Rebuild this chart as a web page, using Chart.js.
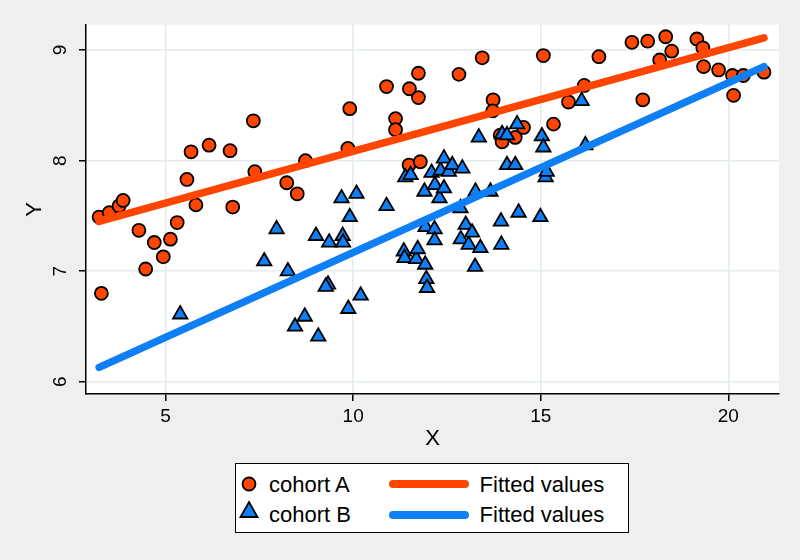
<!DOCTYPE html>
<html><head><meta charset="utf-8">
<script src="https://cdn.jsdelivr.net/npm/chart.js@4.4.1/dist/chart.umd.min.js"></script>
<style>
html,body{margin:0;padding:0;background:#efefef;}
#wrap{position:relative;width:800px;height:560px;overflow:hidden;}
#c{position:absolute;left:0;top:0;}
#legend{position:absolute;left:235px;top:463px;width:392px;height:68px;background:#fff;border:1px solid #000;}
.t{position:absolute;font-family:"Liberation Sans",Arial,sans-serif;font-size:22px;line-height:26px;height:26px;white-space:nowrap;color:#000;}
.ln{position:absolute;height:8px;border-radius:4px;width:80px;}
.mk{position:absolute;}
</style></head>
<body>
<div id="wrap">
<canvas id="c" width="800" height="560"></canvas>
<div id="legend">
  <svg class="mk" style="left:3px;top:10px" width="20" height="20"><circle cx="10" cy="10" r="6.5" fill="#ff4500" stroke="#000" stroke-width="1.8"/></svg>
  <span class="t" id="lgA" style="left:33px;top:7.6px"></span>
  <div class="ln" id="lnA" style="left:153px;top:16.3px"></div>
  <span class="t" id="lgFA" style="left:243.6px;top:7.6px"></span>
  <svg class="mk" style="left:2px;top:36px" width="22" height="20"><polygon points="11,2 19.5,17 2.5,17" fill="#0f7ff5" stroke="#000" stroke-width="1.8" stroke-linejoin="miter"/></svg>
  <span class="t" id="lgB" style="left:33px;top:38.3px"></span>
  <div class="ln" id="lnB" style="left:153px;top:47px"></div>
  <span class="t" id="lgFB" style="left:243.6px;top:38.3px"></span>
</div>
</div>
<script>
// ---- data ----
const cohortAX = [3.23,3.29,3.50,3.76,3.87,4.29,4.47,4.70,4.94,5.13,
  5.31,5.57,5.68,5.81,6.16,6.72,6.79,7.34,7.38,8.23,
  8.51,8.73,9.86,9.91,10.89,11.13,11.13,11.50,11.74,11.74,
  11.49,11.79,12.82,13.44,13.73,13.72,13.92,13.97,14.32,14.54,
  15.07,15.34,15.74,16.16,16.55,17.43,17.72,17.85,18.17,18.33,
  18.49,19.16,19.32,19.34,19.74,20.11,20.14,20.40,20.95];
const cohortAY = [7.49,6.80,7.53,7.59,7.64,7.37,7.02,7.26,7.13,7.29,
  7.44,7.83,8.08,7.60,8.14,8.09,7.58,8.36,7.90,7.80,
  7.70,8.00,8.11,8.47,8.67,8.38,8.28,8.65,8.79,8.57,
  7.96,7.99,8.78,8.93,8.55,8.45,8.23,8.17,8.21,8.30,
  8.95,8.33,8.53,8.68,8.94,9.07,8.55,9.08,8.91,9.12,
  8.99,9.10,9.02,8.85,8.82,8.77,8.59,8.77,8.80];
const cohortBX = [5.39,7.63,7.96,8.26,8.45,8.71,9.01,9.07,9.33,9.27,
  9.36,9.69,9.72,9.73,9.87,9.91,10.09,10.20,10.89,11.35,
  11.37,11.39,11.53,11.68,11.72,11.90,11.92,11.93,11.95,11.97,
  12.09,12.17,12.17,12.18,12.30,12.33,12.42,12.42,12.55,12.64,
  12.86,12.87,12.91,13.00,13.08,13.17,13.25,13.26,13.35,13.39,
  13.66,13.94,13.95,13.97,14.10,14.10,14.32,14.37,14.41,14.99,
  15.03,15.07,15.13,15.16,16.09,16.19];
const cohortBY = [6.61,7.09,7.38,7.00,6.50,6.59,7.32,6.41,6.88,6.86,
  7.26,7.66,7.32,7.26,6.66,7.49,7.70,6.78,7.59,7.18,
  7.12,7.85,7.87,7.11,7.20,7.72,7.06,7.40,6.93,6.85,
  7.89,7.38,7.28,7.78,7.66,7.91,8.02,7.75,7.90,7.96,
  7.57,7.29,7.93,7.42,7.24,7.35,7.04,7.72,8.21,7.21,
  7.72,7.45,7.24,8.24,8.23,7.96,7.96,8.33,7.53,7.49,
  8.22,8.12,7.85,7.90,8.54,8.14];
const fitX = [3.23, 20.95];
const fitAY = [7.45, 9.11];
const fitBY = [6.13, 8.85];
const xTicks = [5, 10, 15, 20];
const yTicks = [6, 7, 8, 9];
const seriesNames = ['cohort A', 'Fitted values', 'cohort B', 'Fitted values'];
const xTitle = 'X';
const yTitle = 'Y';

// ---- style ----
const RED = '#ff4500';
const BLUE = '#0f7ff5';
const GRID = '#e4ebee';
const FONT = '"Liberation Sans", Arial, sans-serif';

document.getElementById('lgA').textContent = seriesNames[0];
document.getElementById('lgFA').textContent = seriesNames[1];
document.getElementById('lgB').textContent = seriesNames[2];
document.getElementById('lgFB').textContent = seriesNames[3];
document.getElementById('lnA').style.background = RED;
document.getElementById('lnB').style.background = BLUE;

function pts(xs, ys) { return xs.map((x, i) => ({x: x, y: ys[i]})); }

const bgPlugin = {
  id: 'plotbg',
  beforeDraw(chart) {
    const {ctx, chartArea: a} = chart;
    ctx.save();
    ctx.fillStyle = '#ffffff';
    ctx.fillRect(a.left, a.top, a.right - a.left, a.bottom - a.top);
    ctx.restore();
  }
};

new Chart(document.getElementById('c'), {
  type: 'scatter',
  data: {
    datasets: [
      {label: seriesNames[0], data: pts(cohortAX, cohortAY), pointStyle: 'circle',
       pointRadius: 6.5, pointHoverRadius: 6.5, backgroundColor: RED, borderColor: '#000',
       borderWidth: 1.8, order: 3},
      {label: seriesNames[1], data: pts(fitX, fitAY), showLine: true, borderColor: RED,
       backgroundColor: RED, borderWidth: 7.5, pointRadius: 0, pointHoverRadius: 0,
       borderCapStyle: 'round', order: 2},
      {label: seriesNames[2], data: pts(cohortBX, cohortBY), pointStyle: 'triangle',
       pointRadius: 8.3, pointHoverRadius: 8.3, backgroundColor: BLUE, borderColor: '#000',
       borderWidth: 1.8, order: 1},
      {label: seriesNames[3], data: pts(fitX, fitBY), showLine: true, borderColor: BLUE,
       backgroundColor: BLUE, borderWidth: 7.5, pointRadius: 0, pointHoverRadius: 0,
       borderCapStyle: 'round', order: 0}
    ]
  },
  options: {
    responsive: false,
    animation: false,
    events: [],
    layout: {padding: {top: 21, right: 21, bottom: 107.8, left: 0}},
    plugins: {legend: {display: false}, tooltip: {enabled: false}},
    scales: {
      x: {
        type: 'linear', min: 2.88, max: 21.35,
        afterBuildTicks: s => { s.ticks = xTicks.map(v => ({value: v})); },
        afterFit: s => { s.height = 58.2; },
        grid: {color: GRID, lineWidth: 1.5, drawTicks: true, tickLength: 7, tickColor: '#000', tickWidth: 1.5},
        border: {display: true, color: '#000', width: 1.5},
        ticks: {color: '#000', font: {family: FONT, size: 19}, padding: 4.5,
                minRotation: 0, maxRotation: 0, autoSkip: false},
        title: {display: true, text: xTitle, color: '#000', font: {family: FONT, size: 22},
                padding: {top: 0, bottom: 0}}
      },
      y: {
        type: 'linear', min: 5.89, max: 9.23,
        afterBuildTicks: s => { s.ticks = yTicks.map(v => ({value: v})); },
        afterFit: s => { s.width = 86; },
        grid: {color: GRID, lineWidth: 1.5, drawTicks: true, tickLength: 7, tickColor: '#000', tickWidth: 1.5},
        border: {display: true, color: '#000', width: 1.5},
        ticks: {color: '#000', font: {family: FONT, size: 19}, padding: 13.2,
                minRotation: 90, maxRotation: 90, crossAlign: 'center', autoSkip: false},
        title: {display: true, text: yTitle, color: '#000', font: {family: FONT, size: 22},
                padding: {top: 21.3, bottom: 0}}
      }
    }
  },
  plugins: [bgPlugin]
});
</script>
</body></html>
